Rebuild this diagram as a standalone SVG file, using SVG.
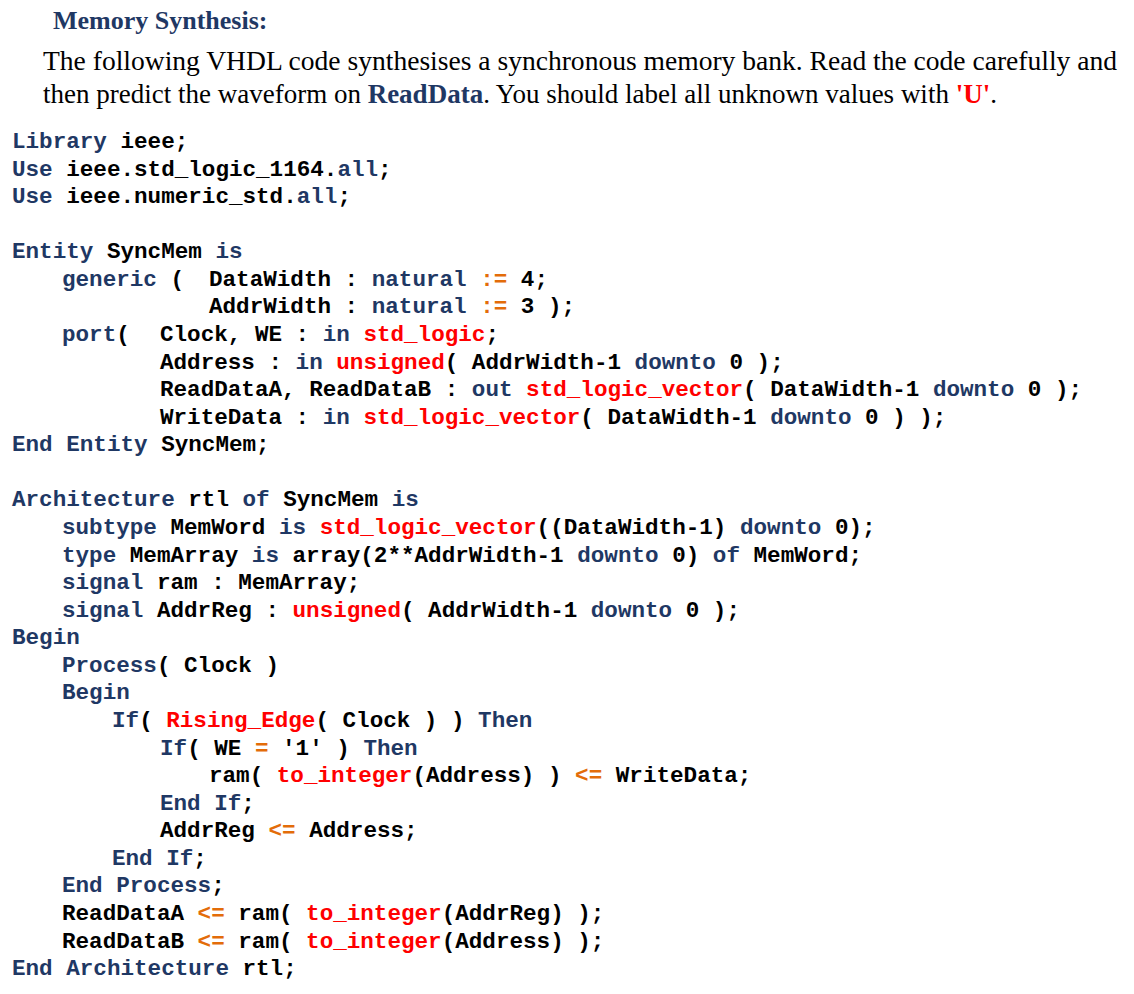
<svg xmlns="http://www.w3.org/2000/svg" width="1134" height="994" viewBox="0 0 1134 994">
<style>
.h{font-family:"Liberation Serif",serif;font-weight:bold;font-size:26px;fill:#1F3864}
.p{font-family:"Liberation Serif",serif;font-size:27px;fill:#000}
.c{font-family:"Liberation Mono",monospace;font-weight:bold;font-size:22.6px;fill:#000;white-space:pre}
.k{fill:#1F3864}.t{fill:#FF0000}.o{fill:#E36C09}
</style>
<rect width="1134" height="994" fill="#fff"/>
<g id="header">
<text class="h" x="53" y="29">Memory Synthesis:</text>
<text class="p" x="43" y="70" textLength="1074" lengthAdjust="spacingAndGlyphs">The following VHDL code synthesises a synchronous memory bank. Read the code carefully and</text>
<text class="p" x="43" y="103">then predict the waveform on <tspan font-weight="bold" fill="#1F3864">ReadData</tspan>. You should label all unknown values with <tspan font-weight="bold" fill="#FF0000">'U'</tspan>.</text>
</g>
<g id="code" xml:space="preserve">
<text class="c" x="12" y="148"><tspan class="k">Library</tspan> ieee;</text>
<text class="c" x="12" y="175.6"><tspan class="k">Use</tspan> ieee.std_logic_1164.<tspan class="k">all</tspan>;</text>
<text class="c" x="12" y="203.1"><tspan class="k">Use</tspan> ieee.numeric_std.<tspan class="k">all</tspan>;</text>
<text class="c" x="12" y="258.3"><tspan class="k">Entity</tspan> SyncMem <tspan class="k">is</tspan></text>
<text class="c" x="62" y="285.9"><tspan class="k">generic</tspan> (</text>
<text class="c" x="209" y="285.9">DataWidth : <tspan class="k">natural</tspan> <tspan class="o">:=</tspan> 4;</text>
<text class="c" x="209" y="313.4">AddrWidth : <tspan class="k">natural</tspan> <tspan class="o">:=</tspan> 3 );</text>
<text class="c" x="62" y="341"><tspan class="k">port</tspan>(</text>
<text class="c" x="160" y="341">Clock, WE : <tspan class="k">in</tspan> <tspan class="t">std_logic</tspan>;</text>
<text class="c" x="160" y="368.6">Address : <tspan class="k">in</tspan> <tspan class="t">unsigned</tspan>( AddrWidth-1 <tspan class="k">downto</tspan> 0 );</text>
<text class="c" x="160" y="396.1">ReadDataA, ReadDataB : <tspan class="k">out</tspan> <tspan class="t">std_logic_vector</tspan>( DataWidth-1 <tspan class="k">downto</tspan> 0 );</text>
<text class="c" x="160" y="423.7">WriteData : <tspan class="k">in</tspan> <tspan class="t">std_logic_vector</tspan>( DataWidth-1 <tspan class="k">downto</tspan> 0 ) );</text>
<text class="c" x="12" y="451.3"><tspan class="k">End Entity</tspan> SyncMem;</text>
<text class="c" x="12" y="506.4"><tspan class="k">Architecture</tspan> rtl <tspan class="k">of</tspan> SyncMem <tspan class="k">is</tspan></text>
<text class="c" x="62" y="534"><tspan class="k">subtype</tspan> MemWord <tspan class="k">is</tspan> <tspan class="t">std_logic_vector</tspan>((DataWidth-1) <tspan class="k">downto</tspan> 0);</text>
<text class="c" x="62" y="561.6"><tspan class="k">type</tspan> MemArray <tspan class="k">is</tspan> array(2**AddrWidth-1 <tspan class="k">downto</tspan> 0) <tspan class="k">of</tspan> MemWord;</text>
<text class="c" x="62" y="589.1"><tspan class="k">signal</tspan> ram : MemArray;</text>
<text class="c" x="62" y="616.7"><tspan class="k">signal</tspan> AddrReg : <tspan class="t">unsigned</tspan>( AddrWidth-1 <tspan class="k">downto</tspan> 0 );</text>
<text class="c" x="12" y="644.3"><tspan class="k">Begin</tspan></text>
<text class="c" x="62" y="671.8"><tspan class="k">Process</tspan>( Clock )</text>
<text class="c" x="62" y="699.4"><tspan class="k">Begin</tspan></text>
<text class="c" x="112" y="727"><tspan class="k">If</tspan>( <tspan class="t">Rising_Edge</tspan>( Clock ) ) <tspan class="k">Then</tspan></text>
<text class="c" x="160" y="754.5"><tspan class="k">If</tspan>( WE <tspan class="o">=</tspan> '1' ) <tspan class="k">Then</tspan></text>
<text class="c" x="209" y="782.1">ram( <tspan class="t">to_integer</tspan>(Address) ) <tspan class="o">&lt;=</tspan> WriteData;</text>
<text class="c" x="160" y="809.7"><tspan class="k">End If</tspan>;</text>
<text class="c" x="160" y="837.2">AddrReg <tspan class="o">&lt;=</tspan> Address;</text>
<text class="c" x="112" y="864.8"><tspan class="k">End If</tspan>;</text>
<text class="c" x="62" y="892.4"><tspan class="k">End Process</tspan>;</text>
<text class="c" x="62" y="919.9">ReadDataA <tspan class="o">&lt;=</tspan> ram( <tspan class="t">to_integer</tspan>(AddrReg) );</text>
<text class="c" x="62" y="947.5">ReadDataB <tspan class="o">&lt;=</tspan> ram( <tspan class="t">to_integer</tspan>(Address) );</text>
<text class="c" x="12" y="975.1"><tspan class="k">End Architecture</tspan> rtl;</text>
</g>
</svg>
